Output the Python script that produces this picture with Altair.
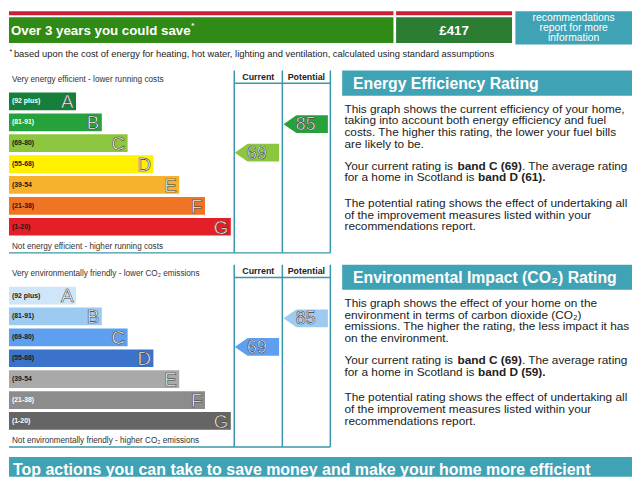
import altair as alt
import pandas as pd

FONT = "Liberation Sans"

# ---------------- data ----------------
bands = ["A", "B", "C", "D", "E", "F", "G"]
band_ranges = ["(92 plus)", "(81-91)", "(69-80)", "(55-68)", "(39-54", "(21-38)", "(1-20)"]
band_lo = [92, 81, 69, 55, 39, 21, 1]
band_hi = [100, 91, 80, 68, 54, 38, 20]

energy_colors = ["#157f3b", "#27a13b", "#8cc63f", "#fff100", "#f8b12c", "#ef7424", "#e31e26"]
energy_label_colors = ["#ffffff", "#ffffff", "#1a1a1a", "#1a1a1a", "#1a1a1a", "#1a1a1a", "#1a1a1a"]
env_colors = ["#cfe6f8", "#9ccaf1", "#5f9ff0", "#3a73c9", "#a9a9a9", "#8c8c8c", "#656565"]
env_label_colors = ["#1a1a1a", "#1a1a1a", "#1a1a1a", "#1a1a1a", "#1a1a1a", "#ffffff", "#ffffff"]

energy_current, energy_potential, energy_scotland = 69, 85, 61
env_current, env_potential, env_scotland = 69, 85, 59

column_titles = ["Current", "Potential"]
saving_label = "Over 3 years you could save"
saving_value = "£417"
side_note = ["recommendations", "report for more", "information"]
footnote = "based upon the cost of energy for heating, hot water, lighting and ventilation, calculated using standard assumptions"
bottom_title = "Top actions you can take to save money and make your home more efficient"

# ---------------- style / layout ----------------
TEAL = "#40a2b5"
FRAME = "#3a97ab"
RED = "#cc1f36"
GREEN = "#2f8a16"
GREEN2 = "#2a7d31"
TXT = "#222222"
ARROW = "M -1 0 L -0.42 -0.4 L 1 -0.4 L 1 0.4 L -0.42 0.4 Z"

W, LW, ROWH = 632, 338, 197
A_C, STEP, BAR_H = 38.3, 21.2, 18
YD0, YD1 = -A_C / STEP, (ROWH - A_C) / STEP
BAR_END0, BAR_STEP = 68, 26.17
COLS = [228.5, 277.3, 326]
COL_C = [(COLS[0] + COLS[1]) / 2, (COLS[1] + COLS[2]) / 2]
ARROW_X = [251.5, 301.0]


def one():
    return pd.DataFrame({"k": [0]})


def txt(text, x, y, size, weight="normal", color=TXT, align="left", baseline="alphabetic", **kw):
    return alt.Chart(pd.DataFrame({"t": [text]})).mark_text(
        align=align, baseline=baseline, font=FONT, fontSize=size, fontWeight=weight, color=color, **kw
    ).encode(x=alt.value(x), y=alt.value(y), text="t:N")


def seg(x1, y1, x2, y2, color=FRAME, w=1.5):
    return alt.Chart(one()).mark_rule(color=color, strokeWidth=w).encode(
        x=alt.value(x1), x2=alt.value(x2), y=alt.value(y1), y2=alt.value(y2))


def box(x1, y1, x2, y2, color):
    return alt.Chart(one()).mark_rect(color=color).encode(
        x=alt.value(x1), x2=alt.value(x2), y=alt.value(y1), y2=alt.value(y2))


def band_index(v):
    for i, (lo, hi) in enumerate(zip(band_lo, band_hi)):
        if lo <= v <= hi:
            return i
    return len(bands) - 1


def row_pos(v):
    i = band_index(v)
    lo, hi = band_lo[i], band_hi[i]
    return i - 0.5 + (hi - v + 0.5) / (hi - lo + 1)


def rating_layers(colors, lcolors, current, potential, top_text, bottom_text):
    df = pd.DataFrame({"band": bands, "rng": band_ranges, "fillc": colors, "lc": lcolors})
    df["rank"] = range(len(bands))
    df["y0"] = df["rank"] - BAR_H / 2 / STEP
    df["y1"] = df["rank"] + BAR_H / 2 / STEP
    df["x0"] = 0.0
    df["x1"] = BAR_END0 + BAR_STEP * df["rank"]
    df["lx"] = df["x1"] - 2.5
    df["tx"] = 3.0

    xs = alt.Scale(domain=[0, W], nice=False, zero=False)
    ys = alt.Scale(domain=[YD0, YD1], nice=False, zero=False, reverse=True)

    def X(f):
        return alt.X(f, type="quantitative", scale=xs, axis=None)

    def Y(f):
        return alt.Y(f, type="quantitative", scale=ys, axis=None)

    base = alt.Chart(df)
    bars = base.mark_rect().encode(
        x=X("x0"), x2=alt.X2("x1"), y=Y("y0"), y2=alt.Y2("y1"),
        color=alt.Color("fillc:N", scale=None))
    rng = base.mark_text(align="left", baseline="middle", font=FONT, fontSize=7, fontWeight="bold").encode(
        x=X("tx"), y=Y("rank"), text="rng:N", color=alt.Color("lc:N", scale=None))
    letters = base.mark_text(align="right", baseline="middle", font=FONT, fontSize=19, fill="white",
                             stroke="#3a3a3a", strokeWidth=0.6, dy=1).encode(
        x=X("lx"), y=Y("rank"), text="band:N")

    adf = pd.DataFrame({"v": [current, potential]})
    adf["pos"] = [row_pos(v) for v in adf["v"]]
    adf["cx"] = ARROW_X
    adf["fillc"] = [colors[band_index(v)] for v in adf["v"]]
    arrows = alt.Chart(adf).mark_point(shape=ARROW, size=2025, filled=True, opacity=1, strokeWidth=0).encode(
        x=X("cx"), y=Y("pos"), color=alt.Color("fillc:N", scale=None))
    nums = alt.Chart(adf).mark_text(align="center", baseline="middle", font=FONT, fontSize=18, fill="white",
                                    stroke="#3a3a3a", strokeWidth=0.6, dy=1).encode(
        x=X("cx"), y=Y("pos"), text="v:N")

    layers = [bars, rng, letters, arrows, nums,
              txt(top_text, 3, 16.5, 8.3, color="#333333", baseline="middle"),
              txt(bottom_text, 3, 185.7, 8.3, color="#333333", baseline="middle"),
              txt(column_titles[0], COL_C[0], 13.5, 9, weight="bold", align="center", baseline="middle"),
              txt(column_titles[1], COL_C[1], 13.5, 9, weight="bold", align="center", baseline="middle")]
    for cx in COLS:
        layers.append(seg(cx, 7, cx, 192))
    layers.append(seg(COLS[0], 20, COLS[2], 20))
    layers.append(seg(0, 192, COLS[2], 192))
    return layers


PX, LHT = LW + 2.3, 11.9
P1Y, P2Y, P3Y = 49.8, 107.6, 145.4


def lines_layer(lines, y0, weight="normal"):
    df = pd.DataFrame({"t": lines})
    df["y"] = [y0 + LHT * i for i in range(len(lines))]
    return alt.Chart(df).mark_text(align="left", baseline="alphabetic", font=FONT, fontSize=12,
                                   fontWeight=weight, color=TXT).encode(
        x=alt.value(PX), y=alt.Y("y:Q", scale=None), text="t:N")


def text_layers(title, para1, current, avg, para3):
    cb, ab = bands[band_index(current)], bands[band_index(avg)]
    normal = pd.DataFrame({
        "t": ["Your current rating is ", ". The average rating", "for a home in Scotland is "],
        "x": [PX, PX + 114.7 + 65.3, PX],
        "y": [P2Y, P2Y, P2Y + LHT]})
    bold = pd.DataFrame({
        "t": [f"band {cb} ({current})", f"band {ab} ({avg})."],
        "x": [PX + 114.7, PX + 135.4],
        "y": [P2Y, P2Y + LHT]})

    def seg_layer(df, weight):
        return alt.Chart(df).mark_text(align="left", baseline="alphabetic", font=FONT, fontSize=12,
                                       fontWeight=weight, color=TXT).encode(
            x=alt.X("x:Q", scale=None), y=alt.Y("y:Q", scale=None), text="t:N")

    return [
        box(LW, 7, W, 32.5, TEAL),
        txt(title, LW + 11, 25.5, 16, weight="bold", color="white"),
        lines_layer(para1, P1Y),
        seg_layer(normal, "normal"),
        seg_layer(bold, "bold"),
        lines_layer(para3, P3Y),
    ]


para3 = ["The potential rating shows the effect of undertaking all",
         "of the improvement measures listed within your",
         "recommendations report."]

energy_row = alt.layer(
    *rating_layers(energy_colors, energy_label_colors, energy_current, energy_potential,
                   "Very energy efficient - lower running costs",
                   "Not energy efficient - higher running costs"),
    *text_layers("Energy Efficiency Rating",
                 ["This graph shows the current efficiency of your home,",
                  "taking into account both energy efficiency and fuel",
                  "costs. The higher this rating, the lower your fuel bills",
                  "are likely to be."],
                 energy_current, energy_scotland, para3),
).properties(width=W, height=ROWH)

env_row = alt.layer(
    *rating_layers(env_colors, env_label_colors, env_current, env_potential,
                   "Very environmentally friendly - lower CO₂ emissions",
                   "Not environmentally friendly - higher CO₂ emissions"),
    *text_layers("Environmental Impact (CO₂) Rating",
                 ["This graph shows the effect of your home on the",
                  "environment in terms of carbon dioxide (CO₂)",
                  "emissions. The higher the rating, the less impact it has",
                  "on the environment."],
                 env_current, env_scotland, para3),
).properties(width=W, height=ROWH)

top = alt.layer(
    box(0, 0, 390, 4, RED),
    box(392.7, 0, 510.3, 4, RED),
    box(0, 6, 390, 32, GREEN),
    box(392.7, 6, 510.3, 32, GREEN2),
    box(513.7, 0, 632, 33.7, TEAL),
    txt(saving_label, 2, 23.5, 13.5, weight="bold", color="white"),
    txt("*", 185, 17, 8, weight="bold", color="white"),
    txt(saving_value, 451.5, 23.5, 13.5, weight="bold", color="white", align="center"),
    txt(side_note[0], 572.8, 9.5, 10.5, color="white", align="center"),
    txt(side_note[1], 572.8, 20, 10.5, color="white", align="center"),
    txt(side_note[2], 572.8, 30.5, 10.5, color="white", align="center"),
    txt("*", 0.5, 43, 7, color=TXT),
    txt(footnote, 5, 46.5, 9.5, color=TXT),
).properties(width=W, height=53)

bottom = alt.layer(
    box(0, 5, W, 25, TEAL),
    txt(bottom_title, 4, 23.3, 16.2, weight="bold", color="white", clip=True),
).properties(width=W, height=25)

chart = alt.vconcat(top, energy_row, env_row, bottom, spacing=0, bounds="flush",
                    padding=0, background="white").configure_view(stroke=None)

chart.save("out.html", embed_options={"renderer": "svg", "actions": False})
